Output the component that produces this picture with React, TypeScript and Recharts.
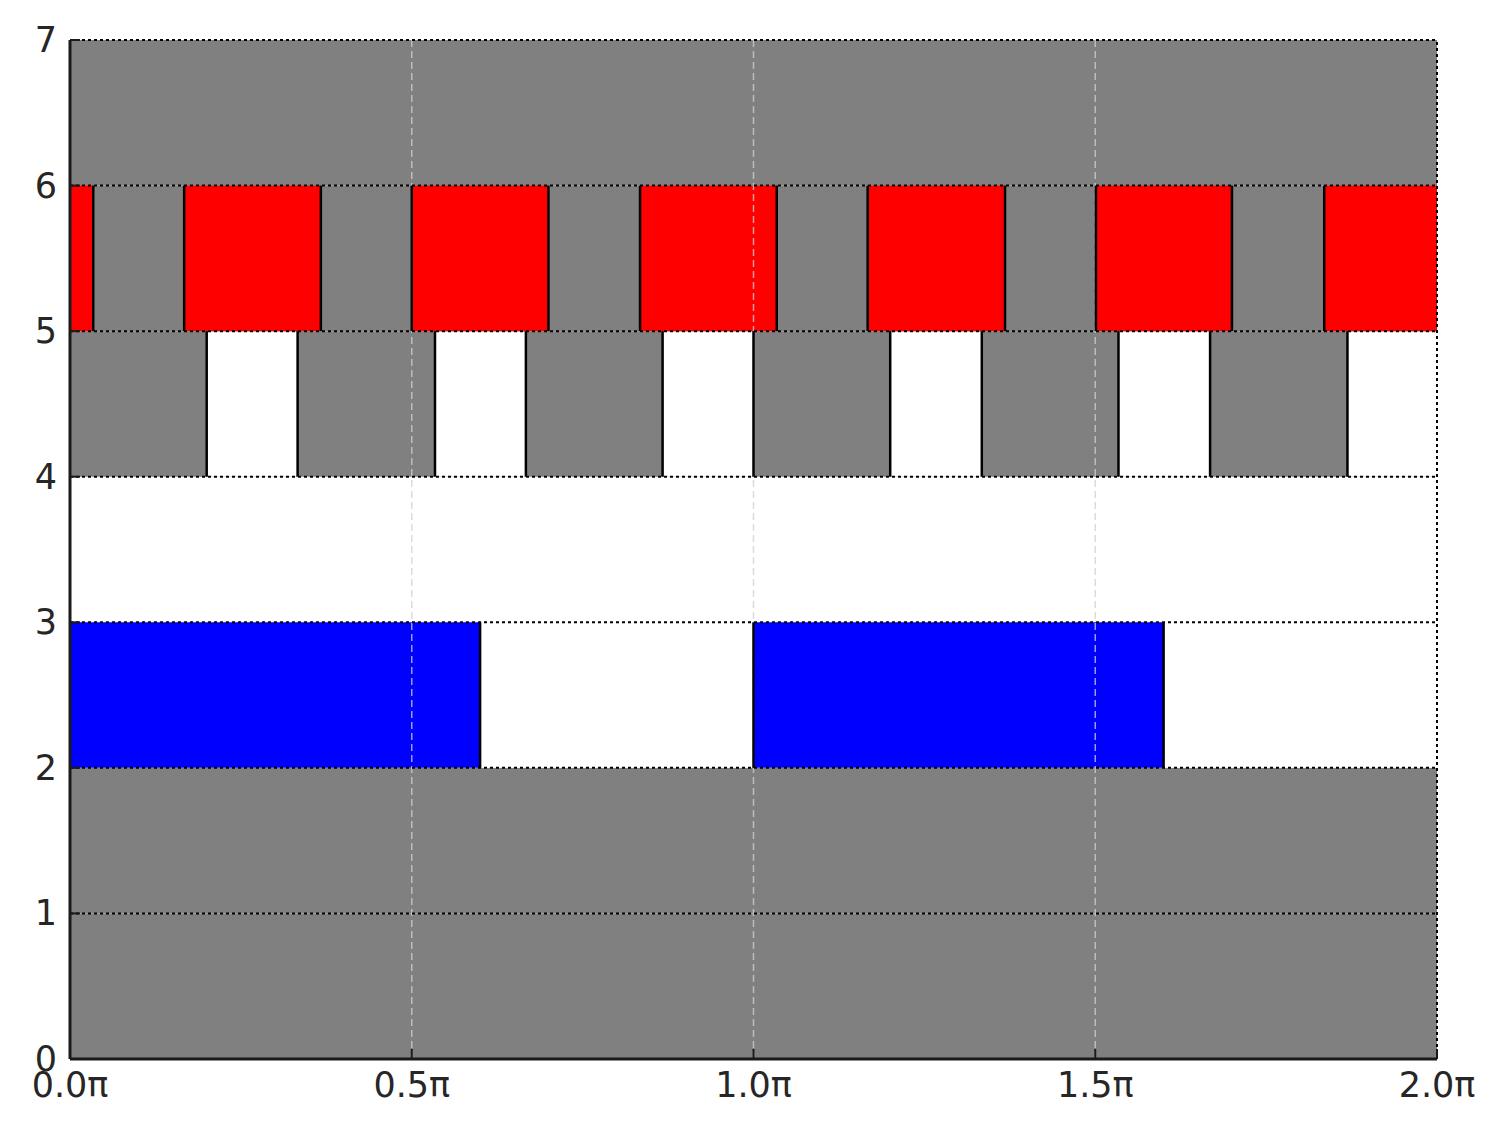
import React from "react";
import { ComposedChart, XAxis, YAxis, ReferenceArea, ReferenceLine } from "recharts";

// x values are in units of π
const X_TICKS = [0, 0.5, 1.0, 1.5, 2.0];
const Y_TICKS = [0, 1, 2, 3, 4, 5, 6, 7];
const GRID_X = [0.5, 1.0, 1.5];
const ROW_LINES = [1, 2, 3, 4, 5, 6, 7];

// rows with uniform fill: [yStart, yEnd, colour]
const PLAIN_ROWS: [number, number, string][] = [
  [0, 1, "gray"],
  [1, 2, "gray"],
  [3, 4, "white"],
  [6, 7, "gray"],
];

// row 2–3: blue "on" intervals on a white background
const BLUE_ROW = { y0: 2, y1: 3, base: "white", on: "blue" };
const BLUE_ON: [number, number][] = [
  [0, 0.6],
  [1.0, 1.6],
];

// row 4–5: white "on" intervals on a gray background
const WHITE_ROW = { y0: 4, y1: 5, base: "gray", on: "white" };
const WHITE_ON: [number, number][] = [
  [0.2, 0.333],
  [0.534, 0.667],
  [0.867, 1.0],
  [1.2, 1.334],
  [1.534, 1.668],
  [1.869, 2.0],
];

// row 5–6: red "on" intervals on a gray background
const RED_ROW = { y0: 5, y1: 6, base: "gray", on: "red" };
const RED_ON: [number, number][] = [
  [0, 0.034],
  [0.167, 0.367],
  [0.5, 0.7],
  [0.834, 1.034],
  [1.167, 1.368],
  [1.501, 1.7],
  [1.835, 2.0],
];

const COLORS: Record<string, string> = {
  gray: "#808080",
  white: "#ffffff",
  blue: "#0000ff",
  red: "#ff0000",
};

const chartData = X_TICKS.map((x) => ({ x }));

const FONT = "DejaVu Sans, sans-serif";
const TEXT = "#262626";
const AXIS = "#1a1a1a";

const XTick = (props: any) => {
  const { x, y, payload } = props;
  return (
    <g>
      <line x1={x} x2={x} y1={y} y2={y - 10} stroke={AXIS} strokeWidth={2} />
      <text x={x} y={y + 38} textAnchor="middle" fontSize={35} fill={TEXT} fontFamily={FONT}>
        {`${Number(payload.value).toFixed(1)}π`}
      </text>
    </g>
  );
};

const YTick = (props: any) => {
  const { x, y, payload } = props;
  return (
    <g>
      <line x1={x} x2={x + 10} y1={y} y2={y} stroke={AXIS} strokeWidth={2} />
      <text x={x - 13} y={y + 12} textAnchor="end" fontSize={35} fill={TEXT} fontFamily={FONT}>
        {String(payload.value)}
      </text>
    </g>
  );
};

function segmentedRow(
  key: string,
  row: { y0: number; y1: number; base: string; on: string },
  on: [number, number][]
) {
  const els: React.ReactNode[] = [];
  els.push(
    <ReferenceArea
      key={`${key}-base`}
      x1={0}
      x2={2}
      y1={row.y0}
      y2={row.y1}
      fill={COLORS[row.base]}
      fillOpacity={1}
      stroke="none"
      ifOverflow="hidden"
    />
  );
  on.forEach(([a, b], i) => {
    els.push(
      <ReferenceArea
        key={`${key}-on-${i}`}
        x1={a}
        x2={b}
        y1={row.y0}
        y2={row.y1}
        fill={COLORS[row.on]}
        fillOpacity={1}
        stroke="none"
        ifOverflow="hidden"
      />
    );
  });
  return els;
}

function edgeLines(key: string, row: { y0: number; y1: number }, on: [number, number][]) {
  const edges: number[] = [];
  on.forEach(([a, b]) => {
    if (a > 0 && a < 2) edges.push(a);
    if (b > 0 && b < 2) edges.push(b);
  });
  return edges.map((x, i) => (
    <ReferenceLine
      key={`${key}-edge-${i}`}
      segment={[
        { x, y: row.y0 },
        { x, y: row.y1 },
      ]}
      stroke="#000"
      strokeWidth={2.5}
      ifOverflow="hidden"
    />
  ));
}

export default function App() {
  return (
    <div style={{ width: 1490, height: 1114 }}>
      <ComposedChart
        width={1490}
        height={1114}
        data={chartData}
        margin={{ top: 32, right: 61, bottom: 62, left: 61 }}
      >
        <XAxis
          dataKey="x"
          type="number"
          domain={[0, 2]}
          ticks={X_TICKS}
          allowDataOverflow
          height={1}
          tickSize={0}
          tickMargin={0}
          tickLine={false}
          tick={<XTick />}
          axisLine={{ stroke: AXIS, strokeWidth: 3 }}
          interval={0}
        />
        <YAxis
          type="number"
          domain={[0, 7]}
          ticks={Y_TICKS}
          allowDataOverflow
          width={1}
          tickSize={0}
          tickMargin={0}
          tickLine={false}
          tick={<YTick />}
          axisLine={{ stroke: AXIS, strokeWidth: 3 }}
          interval={0}
        />

        {PLAIN_ROWS.map(([y0, y1, c], i) => (
          <ReferenceArea
            key={`plain-${i}`}
            x1={0}
            x2={2}
            y1={y0}
            y2={y1}
            fill={COLORS[c]}
            fillOpacity={1}
            stroke="none"
            ifOverflow="hidden"
          />
        ))}
        {segmentedRow("blue", BLUE_ROW, BLUE_ON)}
        {segmentedRow("white", WHITE_ROW, WHITE_ON)}
        {segmentedRow("red", RED_ROW, RED_ON)}

        {GRID_X.map((x) => (
          <ReferenceLine
            key={`grid-${x}`}
            x={x}
            stroke="#d0d0d0"
            strokeOpacity={0.75}
            strokeWidth={1.5}
            strokeDasharray="7 4"
          />
        ))}

        {edgeLines("blue", BLUE_ROW, BLUE_ON)}
        {edgeLines("white", WHITE_ROW, WHITE_ON)}
        {edgeLines("red", RED_ROW, RED_ON)}

        {ROW_LINES.map((y) => (
          <ReferenceLine
            key={`row-${y}`}
            y={y}
            stroke="#000"
            strokeWidth={2}
            strokeDasharray="3 3"
          />
        ))}
        <ReferenceLine
          x={2}
          stroke="#000"
          strokeWidth={2}
          strokeDasharray="3 3"
        />
      </ComposedChart>
    </div>
  );
}
